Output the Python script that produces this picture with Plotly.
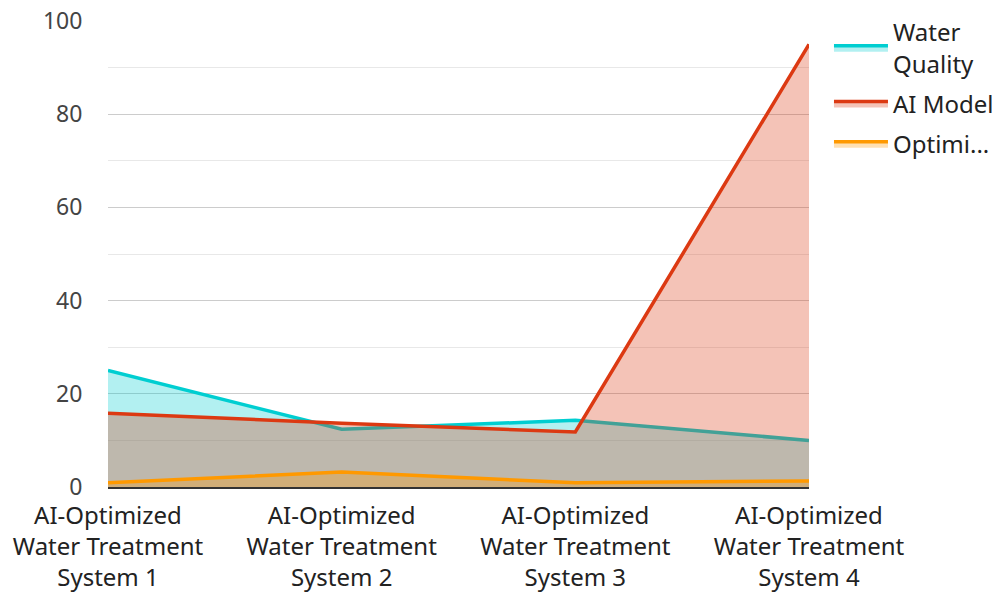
import plotly.graph_objects as go

categories = [
    "AI-Optimized<br>Water Treatment<br>System 1",
    "AI-Optimized<br>Water Treatment<br>System 2",
    "AI-Optimized<br>Water Treatment<br>System 3",
    "AI-Optimized<br>Water Treatment<br>System 4",
]
series_names = ["Water<br>Quality", "AI Model", "Optimi..."]
water_quality = [25, 12.4, 14.3, 10]
ai_model = [15.8, 13.7, 11.8, 95]
optimi = [0.9, 3.2, 0.9, 1.3]

line_colors = ["#00CED1", "#DC3912", "#FF9900"]
fill_colors = ["rgba(0,206,209,0.3)", "rgba(220,57,18,0.3)", "rgba(255,153,0,0.3)"]

fig = go.Figure()
for i, (name, vals, lc, fc) in enumerate(zip(series_names, [water_quality, ai_model, optimi], line_colors, fill_colors)):
    fig.add_trace(go.Scatter(
        x=categories, y=vals, name=name, mode="lines", legendgroup=f"g{i}",
        line=dict(color=lc, width=3.5), fill="tozeroy", fillcolor=fc,
    ))

font_family = "Noto Sans"
fig.update_layout(
    width=992, height=586,
    margin=dict(l=100, r=191, t=13, b=107),
    paper_bgcolor="white", plot_bgcolor="white",
    font=dict(family=font_family, size=24, color="#444444"),
    showlegend=True,
    legend=dict(xref="container", yref="container", x=0.8276, y=0.9966,
                xanchor="left", yanchor="top",
                font=dict(size=24, color="#222222"), tracegroupgap=6,
                itemwidth=54, bgcolor="rgba(0,0,0,0)"),
)
fig.update_xaxes(
    type="category", range=[0, 3], showgrid=False, automargin=False,
    showline=True, linecolor="#333333", linewidth=2,
    tickfont=dict(size=24, color="#222222"),
    ticks="outside", ticklen=6, tickcolor="rgba(0,0,0,0)", zeroline=False,
)
fig.update_yaxes(
    range=[0, 100], dtick=20, showgrid=True, gridcolor="#cccccc", gridwidth=1,
    minor=dict(dtick=10, showgrid=True, gridcolor="#e8e8e8"),
    zeroline=False, showline=False, automargin=False, ticklabeloverflow="allow",
    ticks="outside", ticklen=20, tickcolor="rgba(0,0,0,0)",
    tickfont=dict(size=23, color="#444444"),
)
fig.write_html("out.html")
